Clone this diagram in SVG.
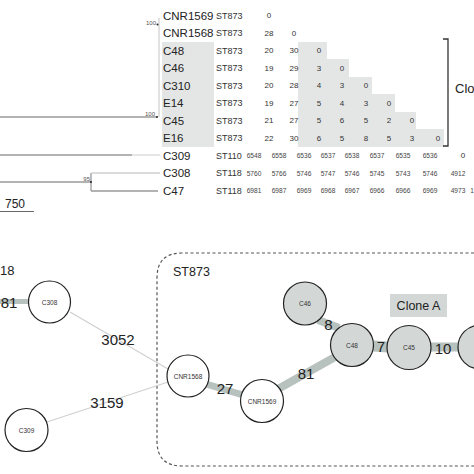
<svg xmlns="http://www.w3.org/2000/svg" width="474" height="474" viewBox="0 0 474 474">
<defs>
<style>
.nm{font-family:"Liberation Sans",Arial,sans-serif;font-size:11.5px;fill:#222;dominant-baseline:central}
.st{font-family:"Liberation Sans",Arial,sans-serif;font-size:9px;fill:#333;dominant-baseline:central}
.n{font-family:"Liberation Sans",Arial,sans-serif;font-size:8px;fill:#333;text-anchor:middle;dominant-baseline:central}
.b{font-family:"Liberation Sans",Arial,sans-serif;font-size:6.6px;fill:#444;text-anchor:middle;dominant-baseline:central}
.bs{font-family:"Liberation Sans",Arial,sans-serif;font-size:6px;fill:#555;text-anchor:end;dominant-baseline:central}
.tr{stroke:#9a9a9a;stroke-width:1.3;fill:none}
.shade{fill:#e4e6e5}
.node{stroke:#222;stroke-width:1.2}
.w{fill:#fff}
.g{fill:#d3d8d6}
.nl{font-family:"Liberation Sans",Arial,sans-serif;font-size:6.5px;fill:#333;text-anchor:middle;dominant-baseline:central}
.el{font-family:"Liberation Sans",Arial,sans-serif;font-size:15px;fill:#222;text-anchor:middle;dominant-baseline:central}
.thin{stroke:#cfcfcf;stroke-width:1.1}
.thick{stroke:#b7c1bd;stroke-linecap:butt}
</style>
</defs>
<rect width="474" height="474" fill="#fff"/>

<!-- Top: tree and distance matrix -->
<g id="tree">
<rect class="shade" x="162" y="42" width="52" height="105"/>
<polygon class="shade" points="298,42 327,42 327,59 349,59 349,77 372,77 372,94 395,94 395,112 416,112 416,129 444,129 444,147 298,147"/>
<line class="tr" x1="0" y1="117" x2="157" y2="117"/>
<line x1="159" y1="18" x2="159" y2="117" stroke="#c4c4c4" stroke-width="1"/>
<line class="tr" x1="0" y1="155" x2="132" y2="155"/>
<line x1="132" y1="155" x2="160" y2="155" stroke="#d8d8d8" stroke-width="1.3"/>
<line class="tr" x1="0" y1="182" x2="91" y2="182"/>
<line class="tr" x1="91" y1="173" x2="91" y2="191"/>
<line x1="91" y1="173" x2="160" y2="173" stroke="#cfcfcf" stroke-width="1.3"/>
<line class="tr" x1="91" y1="191" x2="158" y2="191"/>
<circle cx="157.5" cy="24.5" r="1" fill="#222"/>
<circle cx="157" cy="117" r="1" fill="#222"/>
<circle cx="91" cy="182" r="1" fill="#222"/>
<text class="bs" x="156" y="23">100</text>
<text class="bs" x="155" y="114">100</text>
<text class="bs" x="90" y="179">95</text>
<text x="5" y="208" font-family="Liberation Sans,Arial,sans-serif" font-size="12" fill="#222">750</text>
<line x1="0" y1="211.5" x2="34" y2="211.5" stroke="#666" stroke-width="1"/>
</g>

<g id="matrix">
<text class="nm" x="163" y="15.5">CNR1569</text>
<text class="nm" x="163" y="33">CNR1568</text>
<text class="nm" x="163" y="50.5">C48</text>
<text class="nm" x="163" y="68">C46</text>
<text class="nm" x="163" y="85.5">C310</text>
<text class="nm" x="163" y="103">E14</text>
<text class="nm" x="163" y="120.5">C45</text>
<text class="nm" x="163" y="138">E16</text>
<text class="nm" x="163" y="155.5">C309</text>
<text class="nm" x="163" y="173">C308</text>
<text class="nm" x="163" y="190.5">C47</text>

<text class="st" x="216" y="15.5">ST873</text>
<text class="st" x="216" y="33">ST873</text>
<text class="st" x="216" y="50.5">ST873</text>
<text class="st" x="216" y="68">ST873</text>
<text class="st" x="216" y="85.5">ST873</text>
<text class="st" x="216" y="103">ST873</text>
<text class="st" x="216" y="120.5">ST873</text>
<text class="st" x="216" y="138">ST873</text>
<text class="st" x="216" y="155.5">ST110</text>
<text class="st" x="216" y="173">ST118</text>
<text class="st" x="216" y="190.5">ST118</text>

<text class="n" x="269" y="15.5">0</text>
<text class="n" x="269" y="33">28</text><text class="n" x="294" y="33">0</text>
<text class="n" x="269" y="50.5">20</text><text class="n" x="294" y="50.5">30</text><text class="n" x="319" y="50.5">0</text>
<text class="n" x="269" y="68">19</text><text class="n" x="294" y="68">29</text><text class="n" x="319" y="68">3</text><text class="n" x="342" y="68">0</text>
<text class="n" x="269" y="85.5">20</text><text class="n" x="294" y="85.5">28</text><text class="n" x="319" y="85.5">4</text><text class="n" x="342" y="85.5">3</text><text class="n" x="366" y="85.5">0</text>
<text class="n" x="269" y="103">19</text><text class="n" x="294" y="103">27</text><text class="n" x="319" y="103">5</text><text class="n" x="342" y="103">4</text><text class="n" x="366" y="103">3</text><text class="n" x="389" y="103">0</text>
<text class="n" x="269" y="120.5">21</text><text class="n" x="294" y="120.5">27</text><text class="n" x="319" y="120.5">5</text><text class="n" x="342" y="120.5">6</text><text class="n" x="366" y="120.5">5</text><text class="n" x="389" y="120.5">2</text><text class="n" x="412" y="120.5">0</text>
<text class="n" x="269" y="138">22</text><text class="n" x="294" y="138">30</text><text class="n" x="319" y="138">6</text><text class="n" x="342" y="138">5</text><text class="n" x="366" y="138">8</text><text class="n" x="389" y="138">5</text><text class="n" x="412" y="138">3</text><text class="n" x="438" y="138">0</text>

<text class="b" x="254" y="155.5">6548</text><text class="b" x="279" y="155.5">6558</text><text class="b" x="304" y="155.5">6536</text><text class="b" x="328" y="155.5">6537</text><text class="b" x="352" y="155.5">6538</text><text class="b" x="377" y="155.5">6537</text><text class="b" x="403" y="155.5">6535</text><text class="b" x="430" y="155.5">6536</text><text class="n" x="463" y="155.5">0</text>
<text class="b" x="254" y="173">5760</text><text class="b" x="279" y="173">5766</text><text class="b" x="304" y="173">5746</text><text class="b" x="328" y="173">5747</text><text class="b" x="352" y="173">5746</text><text class="b" x="377" y="173">5745</text><text class="b" x="403" y="173">5743</text><text class="b" x="430" y="173">5746</text><text class="b" x="458" y="173">4912</text>
<text class="b" x="254" y="190.5">6981</text><text class="b" x="279" y="190.5">6987</text><text class="b" x="304" y="190.5">6969</text><text class="b" x="328" y="190.5">6968</text><text class="b" x="352" y="190.5">6967</text><text class="b" x="377" y="190.5">6966</text><text class="b" x="403" y="190.5">6966</text><text class="b" x="430" y="190.5">6969</text><text class="b" x="458" y="190.5">4973</text><text class="b" x="472" y="190.5">1</text>

<path d="M443,39 H448 V146 H443" fill="none" stroke="#333" stroke-width="1.3"/>
<text x="455" y="93" font-family="Liberation Sans,Arial,sans-serif" font-size="13" fill="#222">Clo</text>
</g>

<!-- Bottom: network -->
<g id="st873-group">
<path d="M474,253 H182 Q157,253 157,278 V441 Q157,466 182,466 H474" fill="none" stroke="#555" stroke-width="1.2" stroke-dasharray="3,2.5"/>
<text x="173" y="272" font-family="Liberation Sans,Arial,sans-serif" font-size="12.5" fill="#222" dominant-baseline="central">ST873</text>
</g>

<g id="connectors">
<line class="thick" x1="-5" y1="301.5" x2="29" y2="301.5" stroke-width="5"/>
<line class="thin" x1="70" y1="312" x2="168" y2="369"/>
<line class="thin" x1="47" y1="422" x2="168" y2="382"/>
<line class="thick" x1="206" y1="384" x2="243" y2="395" stroke-width="7"/>
<line class="thick" x1="278" y1="389" x2="335" y2="357" stroke-width="8"/>
<line class="thick" x1="339" y1="328" x2="318" y2="320" stroke-width="8"/>
<line class="thick" x1="373" y1="346" x2="388" y2="347" stroke-width="11"/>
<line class="thick" x1="430" y1="347" x2="458" y2="347" stroke-width="9"/>
<text class="el" x="9" y="302">81</text>
<text class="el" x="118" y="339">3052</text>
<text class="el" x="107" y="402">3159</text>
<text class="el" x="225" y="388">27</text>
<text class="el" x="306" y="373">81</text>
<text class="el" x="328.5" y="324">8</text>
<text class="el" x="381" y="346">7</text>
<text class="el" x="443" y="348">10</text>
</g>

<text x="0" y="275" font-family="Liberation Sans,Arial,sans-serif" font-size="13" fill="#222">18</text>

<g id="C308"><circle class="node w" cx="49.5" cy="302" r="21"/><text class="nl" x="49.5" y="302">C308</text></g>
<g id="C309"><circle class="node w" cx="26.5" cy="430" r="21.5"/><text class="nl" x="26.5" y="430">C309</text></g>
<g id="CNR1568"><circle class="node w" cx="188" cy="376" r="21"/><text class="nl" x="188" y="376">CNR1568</text></g>
<g id="CNR1569"><circle class="node w" cx="262" cy="401" r="21.5"/><text class="nl" x="262" y="401">CNR1569</text></g>
<g id="C46"><circle class="node g" cx="305" cy="303.5" r="21.5"/><text class="nl" x="305" y="303.5">C46</text></g>
<g id="C48"><circle class="node g" cx="352" cy="345" r="21.5"/><text class="nl" x="352" y="345">C48</text></g>
<g id="C45"><circle class="node g" cx="409" cy="347.5" r="22"/><text class="nl" x="409" y="347.5">C45</text></g>
<g id="node-right"><circle class="node g" cx="480" cy="347" r="22"/></g>

<g id="clone-a">
<rect x="390" y="294" width="57" height="23" fill="#d3d8d6"/>
<text x="418.5" y="306" font-family="Liberation Sans,Arial,sans-serif" font-size="12.5" fill="#222" text-anchor="middle" dominant-baseline="central">Clone A</text>
</g>
</svg>
